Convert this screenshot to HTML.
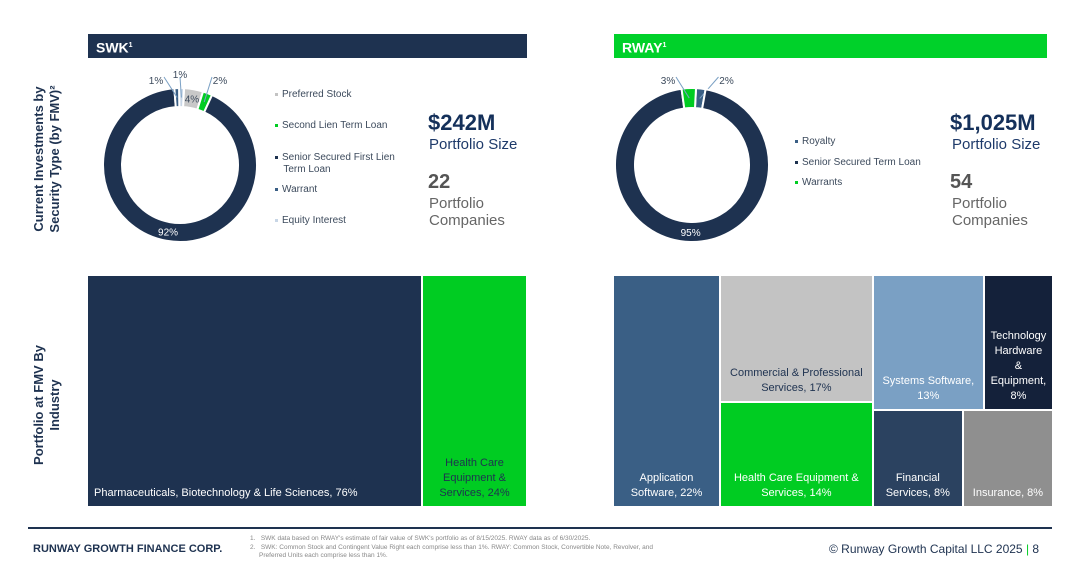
<!DOCTYPE html>
<html><head><meta charset="utf-8">
<style>
body{margin:0;width:1076px;height:562px;background:#fff;font-family:"Liberation Sans",sans-serif;overflow:hidden;position:relative}
.abs{position:absolute}
.hdr{position:absolute;top:34px;height:24px;color:#fff;font-weight:bold;font-size:14px;line-height:24px;padding-left:8px;box-sizing:border-box}
.side{position:absolute;transform:rotate(-90deg);transform-origin:center;text-align:center;font-weight:bold;font-size:13px;color:#1e3250;line-height:16px}
.leg{position:absolute;font-size:10px;color:#3c4a5c;line-height:12px}
.leg span{display:inline-block;width:3px;height:3px;margin-right:4px;vertical-align:middle}
.big{position:absolute;font-weight:bold;font-size:22px;color:#14305a}
.sub{position:absolute;font-size:15px;color:#1e3a6a;line-height:17px}
.num{position:absolute;font-weight:bold;font-size:20px;color:#555}
.sub2{position:absolute;font-size:15px;color:#666;line-height:17px}
.tile{position:absolute;box-sizing:border-box;font-size:11px;line-height:15px;display:flex;align-items:flex-end;padding:5px 6px;text-align:center;overflow:hidden}
</style></head><body>
<div class="hdr" style="left:88px;width:439px;background:#1e3250">SWK<sup style="font-size:7px">1</sup></div>
<div class="hdr" style="left:614px;width:433px;background:#00d12a">RWAY<sup style="font-size:7px">1</sup></div>
<div class="side" style="left:-48px;top:143px;width:190px">Current Investments by<br>Security Type (by FMV)²</div>
<div class="side" style="left:-48px;top:389px;width:190px">Portfolio at FMV By<br>Industry</div>

<svg class="abs" style="left:0;top:0" width="1076" height="270" id="donuts"></svg>

<div class="leg" style="left:275px;top:89px"><span style="background:#c3c3c3"></span>Preferred Stock</div>
<div class="leg" style="left:275px;top:120px"><span style="background:#00cc22"></span>Second Lien Term Loan</div>
<div class="leg" style="left:275px;top:152px"><span style="background:#1e3250"></span>Senior Secured First Lien<br>&nbsp;&nbsp;&nbsp;Term Loan</div>
<div class="leg" style="left:275px;top:184px"><span style="background:#3a5f85"></span>Warrant</div>
<div class="leg" style="left:275px;top:215px"><span style="background:#c8d6e6"></span>Equity Interest</div>

<div class="leg" style="left:795px;top:136px"><span style="background:#3a5f85"></span>Royalty</div>
<div class="leg" style="left:795px;top:157px"><span style="background:#1e3250"></span>Senior Secured Term Loan</div>
<div class="leg" style="left:795px;top:177px"><span style="background:#00cc22"></span>Warrants</div>

<div class="big" style="left:428px;top:110px">$242M</div>
<div class="sub" style="left:429px;top:136px">Portfolio Size</div>
<div class="num" style="left:428px;top:171px">22</div>
<div class="sub2" style="left:429px;top:195px">Portfolio<br>Companies</div>
<div class="big" style="left:950px;top:110px">$1,025M</div>
<div class="sub" style="left:952px;top:136px">Portfolio Size</div>
<div class="num" style="left:950px;top:171px">54</div>
<div class="sub2" style="left:952px;top:195px">Portfolio<br>Companies</div>

<div id="tm"></div>

<div class="abs" style="left:28px;top:527px;width:1024px;height:2px;background:#1e3250"></div>
<div class="abs" style="left:33px;top:543px;font-weight:bold;font-size:11px;color:#1e3250">RUNWAY GROWTH FINANCE CORP.</div>
<div class="abs" style="left:250px;top:535px;font-size:6.5px;color:#888;line-height:8.5px;width:560px">1.&nbsp;&nbsp;&nbsp;SWK data based on RWAY's estimate of fair value of SWK's portfolio as of 8/15/2025. RWAY data as of 6/30/2025.<br>2.&nbsp;&nbsp;&nbsp;SWK: Common Stock and Contingent Value Right each comprise less than 1%. RWAY: Common Stock, Convertible Note, Revolver, and<br>&nbsp;&nbsp;&nbsp;&nbsp;&nbsp;Preferred Units each comprise less than 1%.</div>
<div class="abs" style="left:829px;top:542px;font-size:12px;color:#1e3250">© Runway Growth Capital LLC 2025 <span style="color:#00cc22">|</span> 8</div>

<script>
const swkLabels=["Preferred Stock","Second Lien Term Loan","Senior Secured First Lien Term Loan","Warrant","Equity Interest"];
const swkValues=[4,2,92,1,1];
const swkColors=["#c8c8c8","#00cc22","#1e3250","#3a5f85","#c8d6e6"];
const rwayLabels=["Royalty","Senior Secured Term Loan","Warrants"];
const rwayValues=[2,95,3];
const rwayColors=["#3a5f85","#1e3250","#00cc22"];
const swkInd=["Pharmaceuticals, Biotechnology & Life Sciences, 76%","Health Care Equipment & Services, 24%"];
const swkIndValues=[76,24];
const rwayInd=["Application Software, 22%","Commercial & Professional Services, 17%","Health Care Equipment & Services, 14%","Systems Software, 13%","Technology Hardware & Equipment, 8%","Financial Services, 8%","Insurance, 8%"];
const rwayIndValues=[22,17,14,13,8,8,8];

const NS="http://www.w3.org/2000/svg";
const svg=document.getElementById('donuts');
function pt(cx,cy,r,a){const t=(a-90)*Math.PI/180;return [cx+r*Math.cos(t),cy+r*Math.sin(t)];}
function donut(name,cx,cy,R,r,vals,cols,start){
  const tot=vals.reduce((a,b)=>a+b,0);let a=start;
  vals.forEach((v,i)=>{
    const sw=v/tot*360,a2=a+sw,lg=sw>180?1:0;
    const [x1,y1]=pt(cx,cy,R,a),[x2,y2]=pt(cx,cy,R,a2),[x3,y3]=pt(cx,cy,r,a2),[x4,y4]=pt(cx,cy,r,a);
    const p=document.createElementNS(NS,'path');
    p.setAttribute('d',`M${x1} ${y1}A${R} ${R} 0 ${lg} 1 ${x2} ${y2}L${x3} ${y3}A${r} ${r} 0 ${lg} 0 ${x4} ${y4}Z`);
    p.setAttribute('fill',cols[i]);p.setAttribute('stroke','#fff');p.setAttribute('stroke-width','2');
    
    
    svg.appendChild(p);
    const mid=a+sw/2;
    const t=document.createElementNS(NS,'text');
    let tx,ty;
    if(v>=4){[tx,ty]=pt(cx,cy,(R+r)/2,mid);t.setAttribute('fill',v>50?'#fff':'#3c4a5c');}
    else{
      const right=mid<180, d=right?mid:360-mid;
      let off, yy;
      if(d<2){off=0;yy=cy-R-14;}else{off=Math.min(18+d*2.5,40);yy=cy-R-8;}
      tx=cx+(right?off:-off);ty=yy;
      t.setAttribute('fill','#3c4a5c');
      const [lx,ly]=pt(cx,cy,(R+r)/2,mid);const l=document.createElementNS(NS,'line');
      l.setAttribute('x1',lx);l.setAttribute('y1',ly);l.setAttribute('x2',tx+(off===0?0:(right?-8:8)));l.setAttribute('y2',ty+(off===0?3:-3));
      l.setAttribute('stroke','#7aa0c4');l.setAttribute('stroke-width','1');
      
      
      svg.appendChild(l);}
    t.setAttribute('x',tx);t.setAttribute('y',ty+4);t.setAttribute('text-anchor','middle');t.setAttribute('font-size','10');
    t.setAttribute('font-family','Liberation Sans, sans-serif');t.textContent=v+'%';
    
    
    svg.appendChild(t);
    a=a2;
  });
}
donut('swk-donut',180,165,77,58,swkValues,swkColors,3);
donut('rway-donut',692,165,77,57,rwayValues,rwayColors,3);

const tm=document.getElementById('tm');
function tile(name,x,y,w,h,bg,fg,txt,align){
  const d=document.createElement('div');d.className='tile';
  d.style.cssText=`left:${x}px;top:${y}px;width:${w}px;height:${h}px;background:${bg};color:${fg};justify-content:${align||'center'}`;
  d.textContent=txt;
  
  
  tm.appendChild(d);
}
const G=2,TY=276,TH=230;
(function(){const X=88,W=438,tot=swkIndValues[0]+swkIndValues[1];
 const w0=Math.round(W*swkIndValues[0]/tot);
 tile('tile-pharma',X,TY,w0,TH,'#1e3250','#fff',swkInd[0],'flex-start');
 tile('tile-swk-healthcare',X+w0+G,TY,W-w0-G,TH,'#00cc22','#1e3250',swkInd[1],'flex-start');})();
(function(){const X=614,W=438,v=rwayIndValues,tot=v.reduce((a,b)=>a+b,0);
 const wA=W*v[0]/tot*0.98, wB=W*(v[1]+v[2])/tot, wC=W-wA-wB-2*G;
 tile('tile-application-software',X,TY,wA,TH,'#3a5f85','#fff',rwayInd[0]);
 const xB=X+wA+G,hB1=(TH-G)*v[1]/(v[1]+v[2]);
 tile('tile-commercial-services',xB,TY,wB,hB1,'#c3c3c3','#1e3250',rwayInd[1]);
 tile('tile-rway-healthcare',xB,TY+hB1+G,wB,TH-hB1-G,'#00cc22','#fff',rwayInd[2]);
 const xC=xB+wB+G,top=v[3]+v[4],bot=v[5]+v[6],hC1=(TH-G)*top/(top+bot)*1.03;
 const wC1=(wC-G)*v[3]/top;
 tile('tile-systems-software',xC,TY,wC1,hC1,'#7aa0c4','#fff',rwayInd[3]);
 tile('tile-tech-hardware',xC+wC1+G,TY,wC-wC1-G,hC1,'#14213a','#fff',rwayInd[4]);
 const wC2=(wC-G)*v[5]/bot;
 tile('tile-financial-services',xC,TY+hC1+G,wC2,TH-hC1-G,'#2b4260','#fff',rwayInd[5]);
 tile('tile-insurance',xC+wC2+G,TY+hC1+G,wC-wC2-G,TH-hC1-G,'#8f8f8f','#fff',rwayInd[6]);})();
</script>
</body></html>
